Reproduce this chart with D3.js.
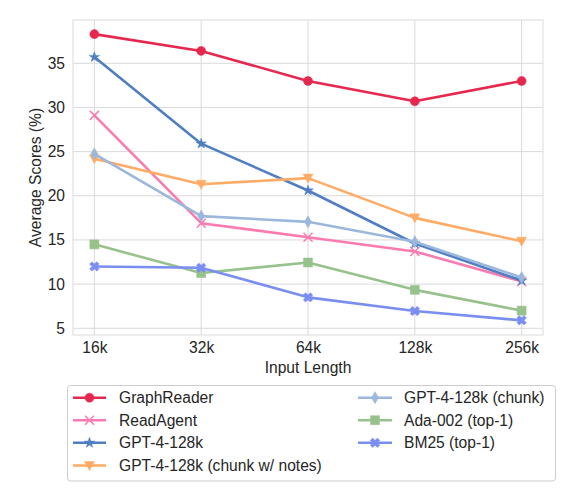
<!DOCTYPE html>
<html><head><meta charset="utf-8">
<script src="https://cdn.jsdelivr.net/npm/d3@7"></script>
<style>body{margin:0;background:#fff}svg{display:block}</style>
</head><body>
<script>
const categories = ["16k","32k","64k","128k","256k"];
const seriesNames = ["GraphReader","ReadAgent","GPT-4-128k","GPT-4-128k (chunk w/ notes)","GPT-4-128k (chunk)","Ada-002 (top-1)","BM25 (top-1)"];
const graphReader = [38.3, 36.4, 33.0, 30.7, 33.0];
const readAgent = [29.1, 16.9, 15.3, 13.7, 10.3];
const gpt4 = [35.7, 25.9, 20.6, 14.6, 10.4];
const gpt4Notes = [24.2, 21.3, 22.0, 17.5, 14.85];
const gpt4Chunk = [24.75, 17.7, 17.05, 14.8, 10.75];
const ada = [14.5, 11.25, 12.45, 9.35, 7.0];
const bm25 = [12.0, 11.85, 8.5, 6.95, 5.9];
const yTicks = [5,10,15,20,25,30,35];
const colors = ["#e6284f","#fb7bb0","#4f7ec2","#ffab66","#9bb8dc","#98c28c","#7a8ef2"];
const markers = ["circle","x","star","triDown","diamond","square","xfill"];
const allData = [graphReader, readAgent, gpt4, gpt4Notes, gpt4Chunk, ada, bm25];

const W = 587, H = 498;
const L = 73, R = 543, T = 20, B = 335;
const FS = 15.6;
const svg = d3.select("body").append("svg").attr("width", W).attr("height", H);
const font = "Liberation Sans, Arial, sans-serif";

const x = d3.scaleLinear().domain([-0.2, 4.2]).range([L, R]);
const y = d3.scaleLinear().domain([4.24, 39.9]).range([B, T]);

// grid
const g = svg.append("g");
g.selectAll(".hg").data(yTicks).enter().append("line")
  .attr("x1", L).attr("x2", R).attr("y1", d => y(d)).attr("y2", d => y(d))
  .attr("stroke", "#d9d9d9").attr("stroke-width", 1);
g.selectAll(".vg").data(categories).enter().append("line")
  .attr("x1", (d,i) => x(i)).attr("x2", (d,i) => x(i)).attr("y1", T).attr("y2", B)
  .attr("stroke", "#d9d9d9").attr("stroke-width", 1);
svg.append("rect").attr("x", L).attr("y", T).attr("width", R-L).attr("height", B-T)
  .attr("fill", "none").attr("stroke", "#e3e3e3").attr("stroke-width", 1.3);

// axes
const yAxis = d3.axisLeft(y).tickValues(yTicks).tickSize(0).tickPadding(8);
const ya = svg.append("g").attr("transform", `translate(${L},0)`).call(yAxis);
ya.select(".domain").remove();
ya.selectAll("text").attr("font-family", font).attr("font-size", FS).attr("fill", "#262626");
const xAxis = d3.axisBottom(x).tickValues(d3.range(categories.length)).tickFormat(i => categories[i]).tickSize(0).tickPadding(7);
const xa = svg.append("g").attr("transform", `translate(0,${B})`).call(xAxis);
xa.select(".domain").remove();
xa.selectAll("text").attr("font-family", font).attr("font-size", FS).attr("fill", "#262626");

svg.append("text").attr("x", (L+R)/2).attr("y", 373).attr("text-anchor", "middle")
  .attr("font-family", font).attr("font-size", FS).attr("fill", "#262626").text("Input Length");
svg.append("text").attr("transform", `translate(41,${(T+B)/2}) rotate(-90)`).attr("text-anchor", "middle")
  .attr("font-family", font).attr("font-size", FS).attr("fill", "#262626").text("Average Scores (%)");

function markerPath(type) {
  const s = 4.5;
  switch (type) {
    case "circle": return d3.symbol(d3.symbolCircle, 64)();
    case "x": return `M${-s},${-s}L${s},${s}M${-s},${s}L${s},${-s}`;
    case "star": return d3.symbol(d3.symbolStar, 34)();
    case "triDown": return `M${-5},${-4}L5,-4L0,5Z`;
    case "diamond": return `M0,-6L3.5,0L0,6L-3.5,0Z`;
    case "square": return `M-4.5,-4.5H4.5V4.5H-4.5Z`;
    case "xfill": return d3.symbol(d3.symbolCross, 56)();
  }
}
function drawMarker(sel, type, color) {
  const p = sel.append("path").attr("d", markerPath(type));
  if (type === "x") p.attr("fill", "none").attr("stroke", color).attr("stroke-width", 1.5);
  else p.attr("fill", color).attr("stroke", color).attr("stroke-width", 0.5);
  if (type === "xfill") p.attr("transform", "rotate(45)");
}

const line = d3.line().x((d,i) => x(i)).y(d => y(d));
allData.forEach((vals, k) => {
  const sg = svg.append("g");
  sg.append("path").attr("d", line(vals)).attr("fill", "none").attr("stroke", colors[k])
    .attr("stroke-width", 2.6).attr("stroke-linejoin", "round");
  vals.forEach((v, i) => {
    const mg = sg.append("g").attr("transform", `translate(${x(i)},${y(v)})`);
    drawMarker(mg, markers[k], colors[k]);
  });
});

// legend
svg.append("rect").attr("x", 67.5).attr("y", 385.5).attr("width", 488).attr("height", 95.5)
  .attr("rx", 3).attr("fill", "#fff").attr("stroke", "#cccccc").attr("stroke-width", 1);
const cols = [[0,1,2,3],[4,5,6]];
const rowY = [397.7, 420.2, 442.8, 465.5];
const colX = [[73,106,119],[358,392,404]];
cols.forEach((c, ci) => {
  c.forEach((k, ri) => {
    const lg = svg.append("g");
    const [x1, x2, tx] = colX[ci];
    lg.append("line").attr("x1", x1).attr("x2", x2).attr("y1", rowY[ri]).attr("y2", rowY[ri])
      .attr("stroke", colors[k]).attr("stroke-width", 2.6);
    const mg = lg.append("g").attr("transform", `translate(${(x1+x2)/2},${rowY[ri]})`);
    drawMarker(mg, markers[k], colors[k]);
    lg.append("text").attr("x", tx).attr("y", rowY[ri]).attr("dy", "0.36em")
      .attr("font-family", font).attr("font-size", FS).attr("fill", "#262626").text(seriesNames[k]);
  });
});
</script>
</body></html>
